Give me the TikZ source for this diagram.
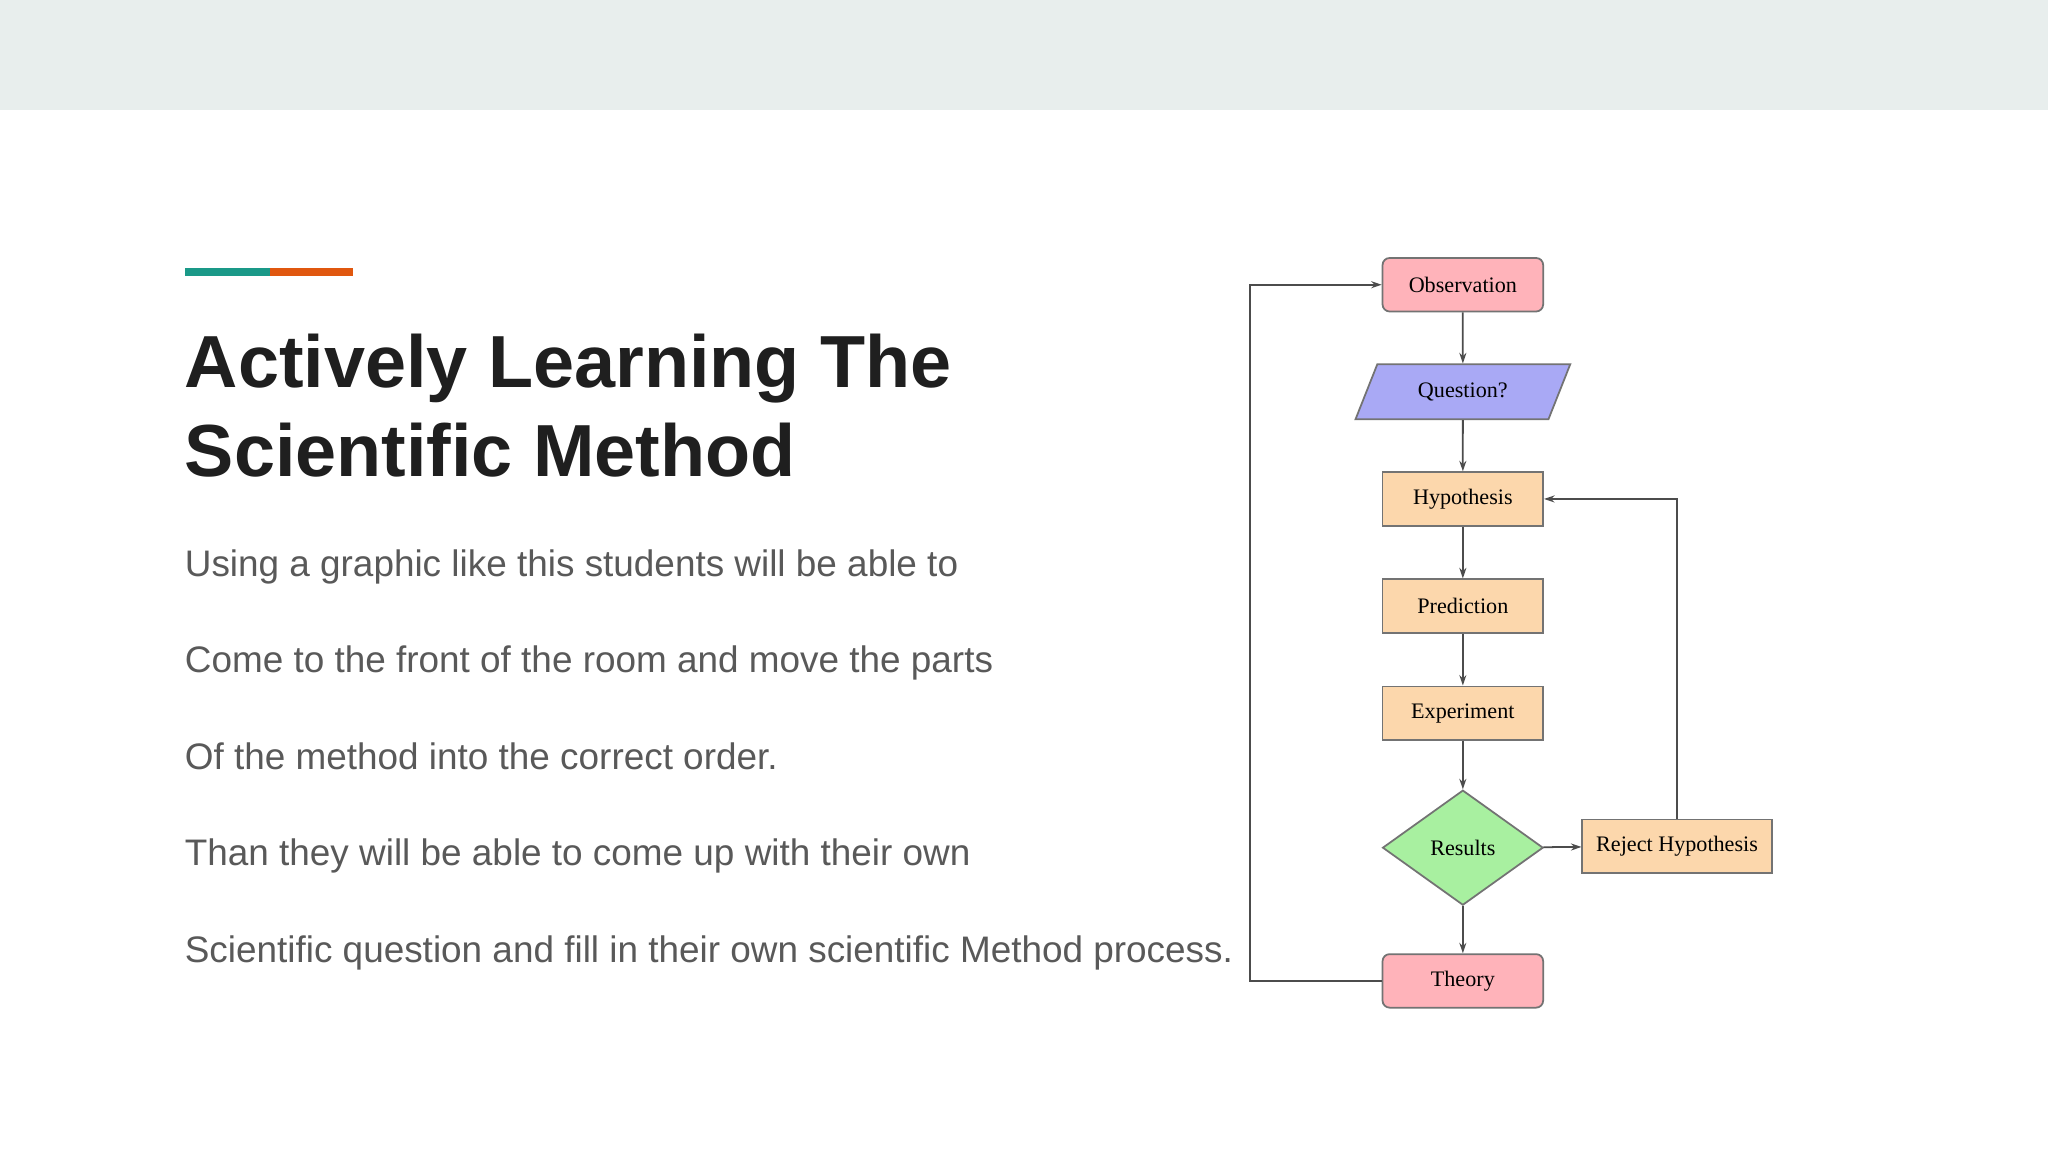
\documentclass[tikz,border=0pt]{standalone}
\usepackage{fontspec}
\setmainfont{Liberation Sans}
\newfontfamily\flowfont{Liberation Serif}
\usetikzlibrary{shapes.geometric,positioning,arrows.meta}
\definecolor{topgray}{HTML}{E8EEED}
\definecolor{accteal}{HTML}{1A9988}
\definecolor{accorange}{HTML}{E0570F}
\definecolor{bodygray}{HTML}{595959}
\definecolor{pinkbox}{HTML}{FFB3BA}
\definecolor{bluebox}{HTML}{A9A9F5}
\definecolor{tanbox}{HTML}{FCD7AC}
\definecolor{greenbox}{HTML}{A8F0A0}
\begin{document}
\begin{tikzpicture}[x=0.01306cm,y=-0.01306cm]
\tikzstyle{box}=[draw=black!55, line width=0.5pt, minimum width=1.606cm, minimum height=0.535cm, inner sep=1pt, font=\flowfont\fontsize{6.3}{8}\selectfont]
\tikzstyle{stepbox}=[box, fill=tanbox]
\tikzstyle{endbox}=[box, fill=pinkbox, rounded corners=2pt]
\tikzstyle{body}=[anchor=base west, inner sep=0, text=bodygray, font=\fontsize{10.5}{12}\selectfont]
\tikzstyle{link}=[draw=black!70, line width=0.5pt, -{Stealth[length=3pt,width=2pt]}]
\useasboundingbox (0,0) rectangle (1568,882);
\fill[white] (0,0) rectangle (1568,882);
\fill[topgray] (0,0) rectangle (1568,84);
\fill[accteal] (142,205) rectangle (207,211);
\fill[accorange] (207,205) rectangle (270,211);
% title and text
\node[anchor=base west, inner sep=0, text=black!88, font=\bfseries\fontsize{21}{26}\selectfont] (title1) at (141,297) {Actively Learning The};
\node[anchor=base west, inner sep=0, text=black!88, font=\bfseries\fontsize{21}{26}\selectfont] (title2) at (141,365) {Scientific Method};
\node[body] (t1) at (141,441) {Using a graphic like this students will be able to};
\node[body] (t2) at (141,515) {Come to the front of the room and move the parts};
\node[body] (t3) at (141,589) {Of the method into the correct order.};
\node[body] (t4) at (141,663) {Than they will be able to come up with their own};
\node[body] (t5) at (141,737) {Scientific question and fill in their own scientific Method process.};
% flowchart
\node[endbox] (obs) at (1120,218) {Observation};
\node[box, fill=bluebox, trapezium, trapezium left angle=64, trapezium right angle=116, trapezium stretches=true, minimum width=2.15cm, minimum height=0.55cm] (que) at (1120,300) {Question?};
\node[stepbox] (hyp) at (1120,382) {Hypothesis};
\node[stepbox] (pre) at (1120,464) {Prediction};
\node[stepbox] (exp) at (1120,546) {Experiment};
\node[box, fill=greenbox, diamond, minimum width=1.606cm, minimum height=1.15cm, inner sep=0] (res) at (1120,649) {Results};
\node[stepbox, minimum width=1.894cm] (rej) at (1284,648) {Reject Hypothesis};
\node[endbox] (the) at (1120,751) {Theory};
\coordinate (loopL) at (957,751);
\coordinate (loopT) at (957,218);
\coordinate (rejT) at (1284,382);
\draw[link] (obs) -- (que);
\draw[link] (que) -- (hyp);
\draw[link] (hyp) -- (pre);
\draw[link] (pre) -- (exp);
\draw[link] (exp) -- (res);
\draw[link] (res) -- (the);
\draw[link] (res) -- (rej);
\draw[link] (rej.north) -- (rejT) -- (hyp.east);
\draw[link] (the.west) -- (loopL) -- (loopT) -- (obs.west);
\end{tikzpicture}
\end{document}
